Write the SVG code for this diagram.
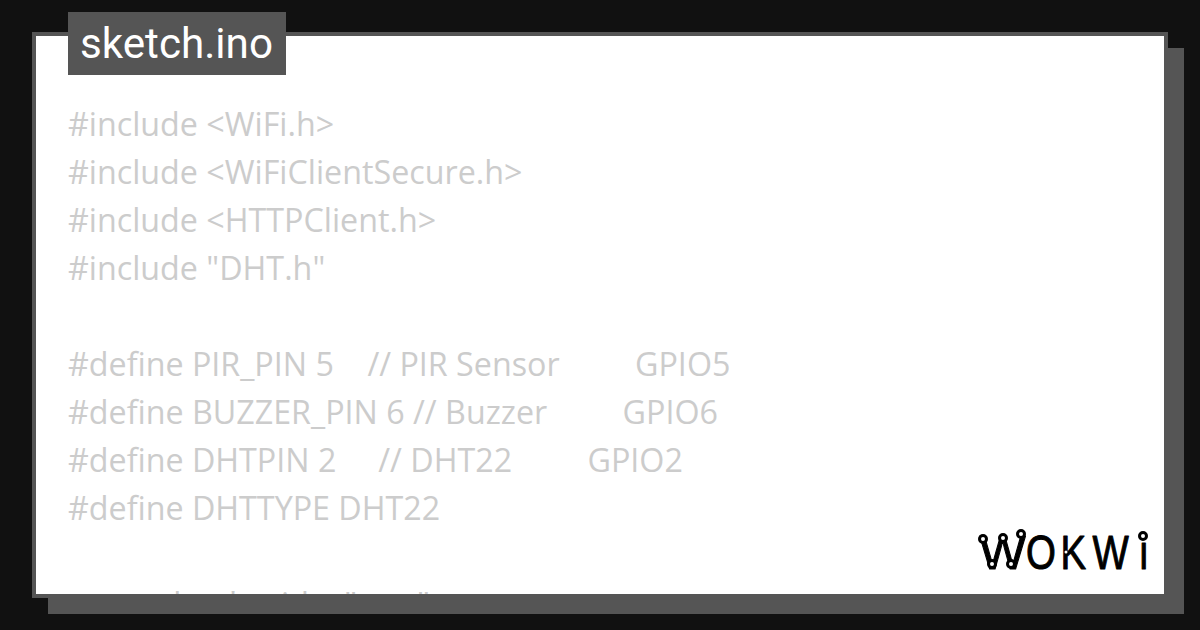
<svg xmlns="http://www.w3.org/2000/svg" width="1200" height="630" viewBox="0 0 1200 630">
<style>
.code{font-family:"Open Sans","Noto Sans",sans-serif;font-size:32.26px;fill:#ccc;white-space:pre}
.tab{font-family:Roboto,sans-serif;font-size:42.2px;fill:#fff}
.logo{font-family:"Liberation Sans",sans-serif;font-size:48px;fill:#000;stroke:#000;stroke-width:1;stroke-linejoin:round}
.node{fill:#fff;stroke:#000;stroke-width:3}
</style>
<defs><clipPath id="c"><rect x="36" y="36" width="1128" height="558"/></clipPath></defs>
<rect width="1200" height="630" fill="#111"/>
<rect x="48" y="48" width="1136" height="566" fill="#555"/>
<rect x="34" y="34" width="1132" height="562" fill="#fff" stroke="#555" stroke-width="4"/>
<g id="code" clip-path="url(#c)">
<text class="code" x="68" y="136">#include &lt;WiFi.h&gt;</text>
<text class="code" x="68" y="184">#include &lt;WiFiClientSecure.h&gt;</text>
<text class="code" x="68" y="232">#include &lt;HTTPClient.h&gt;</text>
<text class="code" x="68" y="280">#include "DHT.h"</text>
<text class="code" x="68" y="376" xml:space="preserve">#define PIR_PIN 5    // PIR Sensor         GPIO5</text>
<text class="code" x="68" y="424" xml:space="preserve">#define BUZZER_PIN 6 // Buzzer         GPIO6</text>
<text class="code" x="68" y="472" xml:space="preserve">#define DHTPIN 2     // DHT22         GPIO2</text>
<text class="code" x="68" y="520">#define DHTTYPE DHT22</text>
<text class="code" x="68" y="616">const char* ssid = "<tspan dx="60">"</tspan>;</text>
</g>
<g id="tab"><rect x="68" y="12" width="218" height="63" fill="#555"/>
<text class="tab" x="80" y="58">sketch.ino</text></g>
<g id="logo">
<text class="logo" transform="translate(979.5 569) scale(1.02 1)" x="0">W</text>
<text class="logo" transform="translate(1026 569) scale(.8 1)" x="0 43 83 142">OKWi</text>
<circle class="node" cx="983" cy="539" r="3.5"/><circle class="node" cx="1003" cy="538" r="3.5"/><circle class="node" cx="1021" cy="534" r="3.5"/><circle class="node" cx="992" cy="564" r="3.5"/><circle class="node" cx="1011" cy="564" r="3.5"/>
<circle class="node" cx="1143" cy="536" r="3.5"/>
<circle cx="1066" cy="552" r="1.5" fill="#fff"/>
</g>
</svg>
